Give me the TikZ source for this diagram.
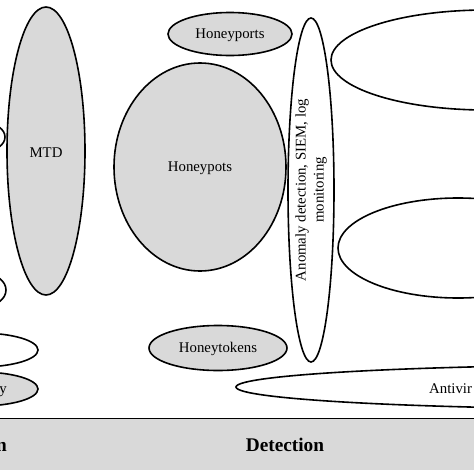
\documentclass[tikz,border=0pt]{standalone}
\usepackage{fontspec}
\setmainfont{Liberation Serif}
\usetikzlibrary{shapes.geometric}
\definecolor{fillgray}{HTML}{D9D9D9}
\begin{document}
\begin{tikzpicture}[x=1pt,y=-1pt,
  txt/.style={font=\fontsize{14.8pt}{18pt}\selectfont, inner sep=0pt},
  bigtxt/.style={font=\fontsize{19.3pt}{22pt}\selectfont\bfseries, inner sep=0pt},
  ell/.style={draw=black, line width=1.6pt, shape=ellipse, inner sep=0pt, font=\fontsize{14.8pt}{18pt}\selectfont},
  gell/.style={ell, fill=fillgray},
  well/.style={ell, fill=white}]
\useasboundingbox (0,0) rectangle (474,474);
\clip (0,0) rectangle (474,474);
% bottom band
\fill[fillgray] (0,419) rectangle (474,470);
\draw[line width=1.6pt] (0,418.5) -- (474,418.5);
\node[bigtxt, anchor=base] (detection) at (285,451) {Detection};
\node[bigtxt, anchor=base east] (prevn) at (7,451) {n};
% right column
\node[well, minimum width=310pt, minimum height=100pt] (topright) at (486,60) {};
\node[well, minimum width=240pt, minimum height=100pt] (midright) at (458,248) {};
\node[well, minimum width=800pt, minimum height=44pt] (antivirus) at (636,387) {};
\node[txt, anchor=base west] (antivirustext) at (429,393) {Antivir};
% middle
\node[gell, minimum width=172pt, minimum height=208pt] (honeypots) at (200,167) {};
\node[txt] (honeypotstext) at (200,168) {Honeypots};
\node[gell, minimum width=124pt, minimum height=43pt] (honeyports) at (230,34) {};
\node[txt] (honeyportstext) at (230,35) {Honeyports};
\node[gell, minimum width=138pt, minimum height=45pt] (honeytokens) at (218,348) {};
\node[txt] (honeytokenstext) at (218,349) {Honeytokens};
\node[well, rotate=90, minimum width=344pt, minimum height=46pt, align=center] (anomaly) at (311,190) {Anomaly detection, SIEM, log\\monitoring};
% left column
\node[gell, minimum width=78pt, minimum height=288pt] (mtd) at (46,151) {};
\node[txt] (mtdtext) at (46,153) {MTD};
\node[well, minimum width=40pt, minimum height=28pt] (leftarc1) at (-15,137) {};
\node[well, minimum width=42pt, minimum height=32pt] (leftarc2) at (-15,290) {};
\node[well, minimum width=116pt, minimum height=34pt] (leftwhite) at (-20,350) {};
\node[gell, minimum width=116pt, minimum height=34pt] (leftgray) at (-20,389) {};
\node[txt, anchor=base east] (lefty) at (7,393) {y};
\end{tikzpicture}
\end{document}
